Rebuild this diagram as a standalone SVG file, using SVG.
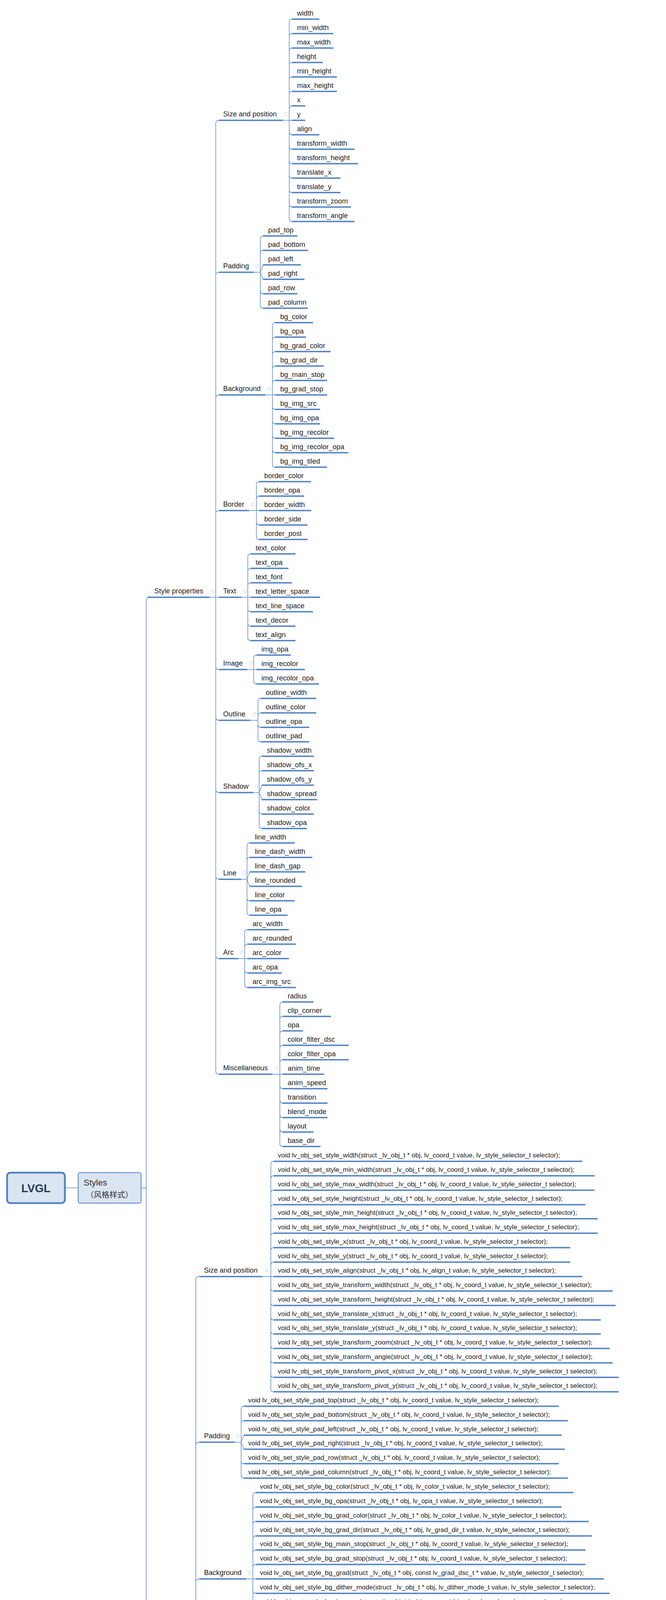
<svg xmlns="http://www.w3.org/2000/svg" width="1704" height="6060" viewBox="0 0 1704 6060">
<style>
text{font-family:"Liberation Sans",Arial,sans-serif;fill:#1b1b1b}
.l{font-size:18px}
.a{font-size:17px}
.g{font-size:18px}
.u{stroke:#4f81c4;stroke-width:3.5;fill:none}
.c{stroke:#5b8cc9;stroke-width:1.5;fill:none}
.k{fill:none;stroke:#c8c8c8;stroke-width:1}
</style>
<rect width="1704" height="6060" fill="#fff"/>
<g id="connectors">
<path class="c" d="M166 3041 H200 M361 3041 H374 M374 3041 V1539 Q374 1529 384 1529 M374 3041 V4543 Q374 4553 384 4553"/>
<!-- Style properties to groups -->
<path class="c" d="M537 1529 H552 M552 1529 V316 Q552 308 560 308 M552 1529 V705 Q552 697 560 697 M552 1529 V1019 Q552 1011 560 1011 M552 1529 V1315 Q552 1307 560 1307 M552 1529 H560 M552 1529 V1706 Q552 1714 560 1714 M552 1529 V1836 Q552 1844 560 1844 M552 1529 V2021 Q552 2029 560 2029 M552 1529 V2243 Q552 2251 560 2251 M552 1529 V2446 Q552 2454 560 2454 M552 1529 V2742 Q552 2750 560 2750"/>
<!-- SP size -->
<path class="c" d="M724 308 H740 M740 308 V57 Q740 49 747 49 M740 308 V94 Q740 86 747 86 M740 308 V131 Q740 123 747 123 M740 308 V168 Q740 160 747 160 M740 308 V205 Q740 197 747 197 M740 308 V242 Q740 234 747 234 M740 308 V279 Q740 271 747 271 M740 308 H747 M740 308 V337 Q740 345 747 345 M740 308 V374 Q740 382 747 382 M740 308 V411 Q740 419 747 419 M740 308 V448 Q740 456 747 456 M740 308 V485 Q740 493 747 493 M740 308 V522 Q740 530 747 530 M740 308 V559 Q740 567 747 567"/>
<path class="c" d="M649 697 H666 M666 697 V612 Q666 604 673 604 M666 697 V649 Q666 641 673 641 M666 697 L673 678 M666 697 L673 715 M666 697 V744 Q666 752 673 752 M666 697 V781 Q666 789 673 789"/>
<path class="c" d="M679 1011 H697 M697 1011 V834 Q697 826 704 826 M697 1011 V871 Q697 863 704 863 M697 1011 V908 Q697 900 704 900 M697 1011 V945 Q697 937 704 937 M697 1011 V982 Q697 974 704 974 M697 1011 H704 M697 1011 V1040 Q697 1048 704 1048 M697 1011 V1077 Q697 1085 704 1085 M697 1011 V1114 Q697 1122 704 1122 M697 1011 V1151 Q697 1159 704 1159 M697 1011 V1188 Q697 1196 704 1196"/>
<path class="c" d="M637 1307 H656 M656 1307 V1241 Q656 1233 663 1233 M656 1307 V1278 Q656 1270 663 1270 M656 1307 H663 M656 1307 V1336 Q656 1344 663 1344 M656 1307 V1373 Q656 1381 663 1381"/>
<path class="c" d="M618 1529 H634 M634 1529 V1426 Q634 1418 641 1418 M634 1529 V1463 Q634 1455 641 1455 M634 1529 V1500 Q634 1492 641 1492 M634 1529 H641 M634 1529 V1558 Q634 1566 641 1566 M634 1529 V1595 Q634 1603 641 1603 M634 1529 V1632 Q634 1640 641 1640"/>
<path class="c" d="M633 1714 H649 M649 1714 V1685 Q649 1677 656 1677 M649 1714 H656 M649 1714 V1743 Q649 1751 656 1751"/>
<path class="c" d="M640 1844 H660 M660 1844 V1796 Q660 1788 667 1788 M660 1844 V1833 Q660 1825 667 1825 M660 1844 V1854 Q660 1862 667 1862 M660 1844 V1891 Q660 1899 667 1899"/>
<path class="c" d="M648 2029 H663 M663 2029 V1944 Q663 1936 670 1936 M663 2029 V1981 Q663 1973 670 1973 M663 2029 L670 2010 M663 2029 L670 2047 M663 2029 V2076 Q663 2084 670 2084 M663 2029 V2113 Q663 2121 670 2121"/>
<path class="c" d="M617 2251 H632 M632 2251 V2166 Q632 2158 639 2158 M632 2251 V2203 Q632 2195 639 2195 M632 2251 L639 2232 M632 2251 L639 2269 M632 2251 V2298 Q632 2306 639 2306 M632 2251 V2335 Q632 2343 639 2343"/>
<path class="c" d="M610 2454 H626 M626 2454 V2388 Q626 2380 633 2380 M626 2454 V2425 Q626 2417 633 2417 M626 2454 H633 M626 2454 V2483 Q626 2491 633 2491 M626 2454 V2520 Q626 2528 633 2528"/>
<path class="c" d="M697 2750 H716 M716 2750 V2573 Q716 2565 723 2565 M716 2750 V2610 Q716 2602 723 2602 M716 2750 V2647 Q716 2639 723 2639 M716 2750 V2684 Q716 2676 723 2676 M716 2750 V2721 Q716 2713 723 2713 M716 2750 H723 M716 2750 V2779 Q716 2787 723 2787 M716 2750 V2816 Q716 2824 723 2824 M716 2750 V2853 Q716 2861 723 2861 M716 2750 V2890 Q716 2898 723 2898 M716 2750 V2927 Q716 2935 723 2935"/>
<!-- Styles API to groups -->
<path class="c" d="M488 4553 H501 M501 4553 V3276 Q501 3268 510 3268 M501 4553 V3700 Q501 3692 510 3692 M501 4553 V4050 Q501 4042 510 4042 M501 4553 V4382 Q501 4374 510 4374 M501 4553 V4548 Q501 4540 510 4540 M501 4553 V4716 Q501 4724 510 4724 M501 4553 V4956 Q501 4964 510 4964 M501 4553 V5140 Q501 5148 510 5148 M501 4553 V5306 Q501 5314 510 5314 M501 4553 V5509 Q501 5517 510 5517 M501 4553 V5822 Q501 5830 510 5830"/>
<path class="c" d="M671 3268 H693 M693 3268 V2981 Q693 2973 700 2973 M693 3268 V3018 Q693 3010 700 3010 M693 3268 V3055 Q693 3047 700 3047 M693 3268 V3092 Q693 3084 700 3084 M693 3268 V3128 Q693 3120 700 3120 M693 3268 V3165 Q693 3157 700 3157 M693 3268 V3202 Q693 3194 700 3194 M693 3268 V3239 Q693 3231 700 3231 M693 3268 H700 M693 3268 V3297 Q693 3305 700 3305 M693 3268 V3334 Q693 3342 700 3342 M693 3268 V3371 Q693 3379 700 3379 M693 3268 V3407 Q693 3415 700 3415 M693 3268 V3444 Q693 3452 700 3452 M693 3268 V3481 Q693 3489 700 3489 M693 3268 V3518 Q693 3526 700 3526 M693 3268 V3555 Q693 3563 700 3563"/>
<path class="c" d="M600 3692 H617 M617 3692 V3608 Q617 3600 624 3600 M617 3692 V3645 Q617 3637 624 3637 M617 3692 L624 3674 M617 3692 L624 3710 M617 3692 V3739 Q617 3747 624 3747 M617 3692 V3776 Q617 3784 624 3784"/>
<path class="c" d="M630 4042 H647 M647 4042 V3829 Q647 3821 654 3821 M647 4042 V3866 Q647 3858 654 3858 M647 4042 V3903 Q647 3895 654 3895 M647 4042 V3940 Q647 3932 654 3932 M647 4042 V3976 Q647 3968 654 3968 M647 4042 V4013 Q647 4005 654 4005 M647 4042 H654 M647 4042 V4071 Q647 4079 654 4079 M647 4042 V4108 Q647 4116 654 4116 M647 4042 V4145 Q647 4153 654 4153 M647 4042 V4182 Q647 4190 654 4190 M647 4042 V4219 Q647 4227 654 4227 M647 4042 V4255 Q647 4263 654 4263"/>
<path class="c" d="M588 4374 H605 M605 4374 V4308 Q605 4300 612 4300 M605 4374 V4345 Q605 4337 612 4337 M605 4374 H612 M605 4374 V4403 Q605 4411 612 4411 M605 4374 V4440 Q605 4448 612 4448"/>
<path class="c" d="M591 4540 H611 M611 4540 V4493 Q611 4485 618 4485 M611 4540 L618 4522 M611 4540 L618 4558 M611 4540 V4587 Q611 4595 618 4595"/>
<path class="c" d="M599 4724 H615 M615 4724 V4640 Q615 4632 622 4632 M615 4724 V4677 Q615 4669 622 4669 M615 4724 L622 4706 M615 4724 L622 4743 M615 4724 V4772 Q615 4780 622 4780 M615 4724 V4809 Q615 4817 622 4817"/>
<path class="c" d="M569 4964 H585 M585 4964 V4861 Q585 4853 592 4853 M585 4964 V4898 Q585 4890 592 4890 M585 4964 V4935 Q585 4927 592 4927 M585 4964 H592 M585 4964 V4993 Q585 5001 592 5001 M585 4964 V5030 Q585 5038 592 5038 M585 4964 V5067 Q585 5075 592 5075"/>
<path class="c" d="M584 5148 H600 M600 5148 V5119 Q600 5111 607 5111 M600 5148 H607 M600 5148 V5177 Q600 5185 607 5185"/>
<path class="c" d="M568 5314 H583 M583 5314 V5230 Q583 5222 590 5222 M583 5314 V5267 Q583 5259 590 5259 M583 5314 L590 5296 M583 5314 L590 5333 M583 5314 V5362 Q583 5370 590 5370 M583 5314 V5398 Q583 5406 590 5406"/>
<path class="c" d="M561 5517 H578 M578 5517 V5451 Q578 5443 585 5443 M578 5517 V5488 Q578 5480 585 5480 M578 5517 H585 M578 5517 V5546 Q578 5554 585 5554 M578 5517 V5583 Q578 5591 585 5591"/>
<path class="c" d="M648 5830 H669 M669 5830 V5636 Q669 5628 676 5628 M669 5830 V5673 Q669 5665 676 5665 M669 5830 V5709 Q669 5701 676 5701 M669 5830 V5746 Q669 5738 676 5738 M669 5830 V5783 Q669 5775 676 5775 M669 5830 L676 5812 M669 5830 L676 5849 M669 5830 V5878 Q669 5886 676 5886 M669 5830 V5915 Q669 5923 676 5923 M669 5830 V5952 Q669 5960 676 5960 M669 5830 V5988 Q669 5996 676 5996 M669 5830 V6025 Q669 6033 676 6033"/>
</g>
<g id="lvgl"><rect x="18" y="3002" width="148" height="78" rx="9" fill="#dbe5f1" stroke="#4f81c4" stroke-width="4.5"/><text x="92" y="3052" text-anchor="middle" style="font-size:29px;font-weight:bold;fill:#1f3a5f">LVGL</text></g>
<g id="styles"><rect x="200" y="3002" width="161" height="78" rx="5" fill="#dbe5f1" stroke="#4f81c4" stroke-width="2"/><text x="214" y="3035" style="font-size:22px;fill:#333">Styles</text><text x="220" y="3066" style="font-family:'Liberation Sans','Noto Sans CJK SC',sans-serif;font-size:20px;fill:#333">（风格样式）</text><circle class="k" cx="368" cy="3042" r="4"/></g>
<g id="style-properties"><text class="g" x="395" y="1519">Style properties</text><path class="u" d="M378 1529 H537"/><circle class="k" cx="545" cy="1514" r="4"/></g>
<g id="styles-api"><text class="g" x="395" y="4543">Styles API</text><path class="u" d="M384 4553 H488"/><circle class="k" cx="495" cy="4538" r="4"/></g>
<!-- SP groups -->
<g id="sp-size"><text class="g" x="571" y="298">Size and position</text><path class="u" d="M560 308 H724"/><circle class="k" cx="732" cy="292" r="4"/></g>
<g id="sp-padding"><text class="g" x="571" y="687">Padding</text><path class="u" d="M560 697 H649"/><circle class="k" cx="658" cy="681" r="4"/></g>
<g id="sp-background"><text class="g" x="571" y="1001">Background</text><path class="u" d="M560 1011 H679"/><circle class="k" cx="689" cy="995" r="4"/></g>
<g id="sp-border"><text class="g" x="571" y="1297">Border</text><path class="u" d="M560 1307 H637"/><circle class="k" cx="647" cy="1291" r="4"/></g>
<g id="sp-text"><text class="g" x="571" y="1519">Text</text><path class="u" d="M560 1529 H618"/><circle class="k" cx="627" cy="1513" r="4"/></g>
<g id="sp-image"><text class="g" x="571" y="1704">Image</text><path class="u" d="M560 1714 H633"/><circle class="k" cx="642" cy="1698" r="4"/></g>
<g id="sp-outline"><text class="g" x="571" y="1834">Outline</text><path class="u" d="M560 1844 H640"/><circle class="k" cx="651" cy="1828" r="4"/></g>
<g id="sp-shadow"><text class="g" x="571" y="2019">Shadow</text><path class="u" d="M560 2029 H648"/><circle class="k" cx="656" cy="2013" r="4"/></g>
<g id="sp-line"><text class="g" x="571" y="2241">Line</text><path class="u" d="M560 2251 H617"/><circle class="k" cx="625" cy="2235" r="4"/></g>
<g id="sp-arc"><text class="g" x="571" y="2444">Arc</text><path class="u" d="M560 2454 H610"/><circle class="k" cx="618" cy="2438" r="4"/></g>
<g id="sp-misc"><text class="g" x="571" y="2740">Miscellaneous</text><path class="u" d="M560 2750 H697"/><circle class="k" cx="708" cy="2734" r="4"/></g>
<!-- SP leaves -->
<g id="p-width"><text class="l" x="760" y="40">width</text><path class="u" d="M747 49 H817"/></g>
<g id="p-min_width"><text class="l" x="760" y="77">min_width</text><path class="u" d="M747 86 H853"/></g>
<g id="p-max_width"><text class="l" x="760" y="114">max_width</text><path class="u" d="M747 123 H853"/></g>
<g id="p-height"><text class="l" x="760" y="151">height</text><path class="u" d="M747 160 H826"/></g>
<g id="p-min_height"><text class="l" x="760" y="188">min_height</text><path class="u" d="M747 197 H862"/></g>
<g id="p-max_height"><text class="l" x="760" y="225">max_height</text><path class="u" d="M747 234 H862"/></g>
<g id="p-x"><text class="l" x="760" y="262">x</text><path class="u" d="M747 271 H781"/></g>
<g id="p-y"><text class="l" x="760" y="299">y</text><path class="u" d="M747 308 H781"/></g>
<g id="p-align"><text class="l" x="760" y="336">align</text><path class="u" d="M747 345 H817"/></g>
<g id="p-transform_width"><text class="l" x="760" y="373">transform_width</text><path class="u" d="M747 382 H907"/></g>
<g id="p-transform_height"><text class="l" x="760" y="410">transform_height</text><path class="u" d="M747 419 H916"/></g>
<g id="p-translate_x"><text class="l" x="760" y="447">translate_x</text><path class="u" d="M747 456 H871"/></g>
<g id="p-translate_y"><text class="l" x="760" y="484">translate_y</text><path class="u" d="M747 493 H871"/></g>
<g id="p-transform_zoom"><text class="l" x="760" y="521">transform_zoom</text><path class="u" d="M747 530 H898"/></g>
<g id="p-transform_angle"><text class="l" x="760" y="558">transform_angle</text><path class="u" d="M747 567 H907"/></g>
<g id="p-pad_top"><text class="l" x="686" y="595">pad_top</text><path class="u" d="M673 604 H761"/></g>
<g id="p-pad_bottom"><text class="l" x="686" y="632">pad_bottom</text><path class="u" d="M673 641 H788"/></g>
<g id="p-pad_left"><text class="l" x="686" y="669">pad_left</text><path class="u" d="M673 678 H770"/></g>
<g id="p-pad_right"><text class="l" x="686" y="706">pad_right</text><path class="u" d="M673 715 H779"/></g>
<g id="p-pad_row"><text class="l" x="686" y="743">pad_row</text><path class="u" d="M673 752 H761"/></g>
<g id="p-pad_column"><text class="l" x="686" y="780">pad_column</text><path class="u" d="M673 789 H788"/></g>
<g id="p-bg_color"><text class="l" x="717" y="817">bg_color</text><path class="u" d="M704 826 H801"/></g>
<g id="p-bg_opa"><text class="l" x="717" y="854">bg_opa</text><path class="u" d="M704 863 H783"/></g>
<g id="p-bg_grad_color"><text class="l" x="717" y="891">bg_grad_color</text><path class="u" d="M704 900 H846"/></g>
<g id="p-bg_grad_dir"><text class="l" x="717" y="928">bg_grad_dir</text><path class="u" d="M704 937 H828"/></g>
<g id="p-bg_main_stop"><text class="l" x="717" y="965">bg_main_stop</text><path class="u" d="M704 974 H837"/></g>
<g id="p-bg_grad_stop"><text class="l" x="717" y="1002">bg_grad_stop</text><path class="u" d="M704 1011 H837"/></g>
<g id="p-bg_img_src"><text class="l" x="717" y="1039">bg_img_src</text><path class="u" d="M704 1048 H819"/></g>
<g id="p-bg_img_opa"><text class="l" x="717" y="1076">bg_img_opa</text><path class="u" d="M704 1085 H819"/></g>
<g id="p-bg_img_recolor"><text class="l" x="717" y="1113">bg_img_recolor</text><path class="u" d="M704 1122 H855"/></g>
<g id="p-bg_img_recolor_opa"><text class="l" x="717" y="1150">bg_img_recolor_opa</text><path class="u" d="M704 1159 H891"/></g>
<g id="p-bg_img_tiled"><text class="l" x="717" y="1187">bg_img_tiled</text><path class="u" d="M704 1196 H837"/></g>
<g id="p-border_color"><text class="l" x="676" y="1224">border_color</text><path class="u" d="M663 1233 H796"/></g>
<g id="p-border_opa"><text class="l" x="676" y="1261">border_opa</text><path class="u" d="M663 1270 H778"/></g>
<g id="p-border_width"><text class="l" x="676" y="1298">border_width</text><path class="u" d="M663 1307 H796"/></g>
<g id="p-border_side"><text class="l" x="676" y="1335">border_side</text><path class="u" d="M663 1344 H787"/></g>
<g id="p-border_post"><text class="l" x="676" y="1372">border_post</text><path class="u" d="M663 1381 H787"/></g>
<g id="p-text_color"><text class="l" x="654" y="1409">text_color</text><path class="u" d="M641 1418 H756"/></g>
<g id="p-text_opa"><text class="l" x="654" y="1446">text_opa</text><path class="u" d="M641 1455 H738"/></g>
<g id="p-text_font"><text class="l" x="654" y="1483">text_font</text><path class="u" d="M641 1492 H747"/></g>
<g id="p-text_letter_space"><text class="l" x="654" y="1520">text_letter_space</text><path class="u" d="M641 1529 H819"/></g>
<g id="p-text_line_space"><text class="l" x="654" y="1557">text_line_space</text><path class="u" d="M641 1566 H801"/></g>
<g id="p-text_decor"><text class="l" x="654" y="1594">text_decor</text><path class="u" d="M641 1603 H756"/></g>
<g id="p-text_align"><text class="l" x="654" y="1631">text_align</text><path class="u" d="M641 1640 H756"/></g>
<g id="p-img_opa"><text class="l" x="669" y="1668">img_opa</text><path class="u" d="M656 1677 H744"/></g>
<g id="p-img_recolor"><text class="l" x="669" y="1705">img_recolor</text><path class="u" d="M656 1714 H780"/></g>
<g id="p-img_recolor_opa"><text class="l" x="669" y="1742">img_recolor_opa</text><path class="u" d="M656 1751 H816"/></g>
<g id="p-outline_width"><text class="l" x="680" y="1779">outline_width</text><path class="u" d="M667 1788 H809"/></g>
<g id="p-outline_color"><text class="l" x="680" y="1816">outline_color</text><path class="u" d="M667 1825 H809"/></g>
<g id="p-outline_opa"><text class="l" x="680" y="1853">outline_opa</text><path class="u" d="M667 1862 H791"/></g>
<g id="p-outline_pad"><text class="l" x="680" y="1890">outline_pad</text><path class="u" d="M667 1899 H791"/></g>
<g id="p-shadow_width"><text class="l" x="683" y="1927">shadow_width</text><path class="u" d="M670 1936 H803"/></g>
<g id="p-shadow_ofs_x"><text class="l" x="683" y="1964">shadow_ofs_x</text><path class="u" d="M670 1973 H803"/></g>
<g id="p-shadow_ofs_y"><text class="l" x="683" y="2001">shadow_ofs_y</text><path class="u" d="M670 2010 H803"/></g>
<g id="p-shadow_spread"><text class="l" x="683" y="2038">shadow_spread</text><path class="u" d="M670 2047 H812"/></g>
<g id="p-shadow_color"><text class="l" x="683" y="2075">shadow_color</text><path class="u" d="M670 2084 H803"/></g>
<g id="p-shadow_opa"><text class="l" x="683" y="2112">shadow_opa</text><path class="u" d="M670 2121 H785"/></g>
<g id="p-line_width"><text class="l" x="652" y="2149">line_width</text><path class="u" d="M639 2158 H754"/></g>
<g id="p-line_dash_width"><text class="l" x="652" y="2186">line_dash_width</text><path class="u" d="M639 2195 H799"/></g>
<g id="p-line_dash_gap"><text class="l" x="652" y="2223">line_dash_gap</text><path class="u" d="M639 2232 H781"/></g>
<g id="p-line_rounded"><text class="l" x="652" y="2260">line_rounded</text><path class="u" d="M639 2269 H772"/></g>
<g id="p-line_color"><text class="l" x="652" y="2297">line_color</text><path class="u" d="M639 2306 H754"/></g>
<g id="p-line_opa"><text class="l" x="652" y="2334">line_opa</text><path class="u" d="M639 2343 H736"/></g>
<g id="p-arc_width"><text class="l" x="646" y="2371">arc_width</text><path class="u" d="M633 2380 H739"/></g>
<g id="p-arc_rounded"><text class="l" x="646" y="2408">arc_rounded</text><path class="u" d="M633 2417 H757"/></g>
<g id="p-arc_color"><text class="l" x="646" y="2445">arc_color</text><path class="u" d="M633 2454 H739"/></g>
<g id="p-arc_opa"><text class="l" x="646" y="2482">arc_opa</text><path class="u" d="M633 2491 H721"/></g>
<g id="p-arc_img_src"><text class="l" x="646" y="2519">arc_img_src</text><path class="u" d="M633 2528 H757"/></g>
<g id="p-radius"><text class="l" x="736" y="2556">radius</text><path class="u" d="M723 2565 H802"/></g>
<g id="p-clip_corner"><text class="l" x="736" y="2593">clip_corner</text><path class="u" d="M723 2602 H847"/></g>
<g id="p-opa"><text class="l" x="736" y="2630">opa</text><path class="u" d="M723 2639 H775"/></g>
<g id="p-color_filter_dsc"><text class="l" x="736" y="2667">color_filter_dsc</text><path class="u" d="M723 2676 H892"/></g>
<g id="p-color_filter_opa"><text class="l" x="736" y="2704">color_filter_opa</text><path class="u" d="M723 2713 H892"/></g>
<g id="p-anim_time"><text class="l" x="736" y="2741">anim_time</text><path class="u" d="M723 2750 H829"/></g>
<g id="p-anim_speed"><text class="l" x="736" y="2778">anim_speed</text><path class="u" d="M723 2787 H838"/></g>
<g id="p-transition"><text class="l" x="736" y="2815">transition</text><path class="u" d="M723 2824 H838"/></g>
<g id="p-blend_mode"><text class="l" x="736" y="2852">blend_mode</text><path class="u" d="M723 2861 H838"/></g>
<g id="p-layout"><text class="l" x="736" y="2889">layout</text><path class="u" d="M723 2898 H802"/></g>
<g id="p-base_dir"><text class="l" x="736" y="2926">base_dir</text><path class="u" d="M723 2935 H820"/></g>
<!-- API groups -->
<g id="api-size"><text class="g" x="522" y="3258">Size and position</text><path class="u" d="M510 3268 H671"/><circle class="k" cx="682" cy="3252" r="4"/></g>
<g id="api-padding"><text class="g" x="522" y="3682">Padding</text><path class="u" d="M510 3692 H600"/><circle class="k" cx="609" cy="3676" r="4"/></g>
<g id="api-background"><text class="g" x="522" y="4032">Background</text><path class="u" d="M510 4042 H630"/><circle class="k" cx="639" cy="4026" r="4"/></g>
<g id="api-border"><text class="g" x="522" y="4364">Border</text><path class="u" d="M510 4374 H588"/><circle class="k" cx="597" cy="4358" r="4"/></g>
<g id="api-outline"><text class="g" x="522" y="4530">Outline</text><path class="u" d="M510 4540 H591"/><circle class="k" cx="602" cy="4528" r="4"/></g>
<g id="api-shadow"><text class="g" x="522" y="4714">Shadow</text><path class="u" d="M510 4724 H599"/><circle class="k" cx="607" cy="4708" r="4"/></g>
<g id="api-text"><text class="g" x="522" y="4954">Text</text><path class="u" d="M510 4964 H569"/><circle class="k" cx="577" cy="4948" r="4"/></g>
<g id="api-image"><text class="g" x="522" y="5138">Image</text><path class="u" d="M510 5148 H584"/><circle class="k" cx="592" cy="5132" r="4"/></g>
<g id="api-line"><text class="g" x="522" y="5304">Line</text><path class="u" d="M510 5314 H568"/><circle class="k" cx="576" cy="5298" r="4"/></g>
<g id="api-arc"><text class="g" x="522" y="5507">Arc</text><path class="u" d="M510 5517 H561"/><circle class="k" cx="570" cy="5501" r="4"/></g>
<g id="api-misc"><text class="g" x="522" y="5820">Miscellaneous</text><path class="u" d="M510 5830 H648"/><circle class="k" cx="658" cy="5814" r="4"/></g>
<!-- API leaves -->
<g id="f-width"><text class="a" x="711" y="2963">void lv_obj_set_style_width(struct _lv_obj_t * obj, lv_coord_t value, lv_style_selector_t selector);</text><path class="u" d="M700 2973 H1490"/></g>
<g id="f-min_width"><text class="a" x="711" y="3000">void lv_obj_set_style_min_width(struct _lv_obj_t * obj, lv_coord_t value, lv_style_selector_t selector);</text><path class="u" d="M700 3010 H1521"/></g>
<g id="f-max_width"><text class="a" x="711" y="3037">void lv_obj_set_style_max_width(struct _lv_obj_t * obj, lv_coord_t value, lv_style_selector_t selector);</text><path class="u" d="M700 3047 H1521"/></g>
<g id="f-height"><text class="a" x="711" y="3074">void lv_obj_set_style_height(struct _lv_obj_t * obj, lv_coord_t value, lv_style_selector_t selector);</text><path class="u" d="M700 3084 H1498"/></g>
<g id="f-min_height"><text class="a" x="711" y="3110">void lv_obj_set_style_min_height(struct _lv_obj_t * obj, lv_coord_t value, lv_style_selector_t selector);</text><path class="u" d="M700 3120 H1529"/></g>
<g id="f-max_height"><text class="a" x="711" y="3147">void lv_obj_set_style_max_height(struct _lv_obj_t * obj, lv_coord_t value, lv_style_selector_t selector);</text><path class="u" d="M700 3157 H1529"/></g>
<g id="f-x"><text class="a" x="711" y="3184">void lv_obj_set_style_x(struct _lv_obj_t * obj, lv_coord_t value, lv_style_selector_t selector);</text><path class="u" d="M700 3194 H1459"/></g>
<g id="f-y"><text class="a" x="711" y="3221">void lv_obj_set_style_y(struct _lv_obj_t * obj, lv_coord_t value, lv_style_selector_t selector);</text><path class="u" d="M700 3231 H1459"/></g>
<g id="f-align"><text class="a" x="711" y="3258">void lv_obj_set_style_align(struct _lv_obj_t * obj, lv_align_t value, lv_style_selector_t selector);</text><path class="u" d="M700 3268 H1490"/></g>
<g id="f-transform_width"><text class="a" x="711" y="3295">void lv_obj_set_style_transform_width(struct _lv_obj_t * obj, lv_coord_t value, lv_style_selector_t selector);</text><path class="u" d="M700 3305 H1568"/></g>
<g id="f-transform_height"><text class="a" x="711" y="3332">void lv_obj_set_style_transform_height(struct _lv_obj_t * obj, lv_coord_t value, lv_style_selector_t selector);</text><path class="u" d="M700 3342 H1575"/></g>
<g id="f-translate_x"><text class="a" x="711" y="3369">void lv_obj_set_style_translate_x(struct _lv_obj_t * obj, lv_coord_t value, lv_style_selector_t selector);</text><path class="u" d="M700 3379 H1537"/></g>
<g id="f-translate_y"><text class="a" x="711" y="3405">void lv_obj_set_style_translate_y(struct _lv_obj_t * obj, lv_coord_t value, lv_style_selector_t selector);</text><path class="u" d="M700 3415 H1537"/></g>
<g id="f-transform_zoom"><text class="a" x="711" y="3442">void lv_obj_set_style_transform_zoom(struct _lv_obj_t * obj, lv_coord_t value, lv_style_selector_t selector);</text><path class="u" d="M700 3452 H1560"/></g>
<g id="f-transform_angle"><text class="a" x="711" y="3479">void lv_obj_set_style_transform_angle(struct _lv_obj_t * obj, lv_coord_t value, lv_style_selector_t selector);</text><path class="u" d="M700 3489 H1568"/></g>
<g id="f-transform_pivot_x"><text class="a" x="711" y="3516">void lv_obj_set_style_transform_pivot_x(struct _lv_obj_t * obj, lv_coord_t value, lv_style_selector_t selector);</text><path class="u" d="M700 3526 H1583"/></g>
<g id="f-transform_pivot_y"><text class="a" x="711" y="3553">void lv_obj_set_style_transform_pivot_y(struct _lv_obj_t * obj, lv_coord_t value, lv_style_selector_t selector);</text><path class="u" d="M700 3563 H1583"/></g>
<g id="f-pad_top"><text class="a" x="635" y="3590">void lv_obj_set_style_pad_top(struct _lv_obj_t * obj, lv_coord_t value, lv_style_selector_t selector);</text><path class="u" d="M624 3600 H1430"/></g>
<g id="f-pad_bottom"><text class="a" x="635" y="3627">void lv_obj_set_style_pad_bottom(struct _lv_obj_t * obj, lv_coord_t value, lv_style_selector_t selector);</text><path class="u" d="M624 3637 H1453"/></g>
<g id="f-pad_left"><text class="a" x="635" y="3664">void lv_obj_set_style_pad_left(struct _lv_obj_t * obj, lv_coord_t value, lv_style_selector_t selector);</text><path class="u" d="M624 3674 H1437"/></g>
<g id="f-pad_right"><text class="a" x="635" y="3700">void lv_obj_set_style_pad_right(struct _lv_obj_t * obj, lv_coord_t value, lv_style_selector_t selector);</text><path class="u" d="M624 3710 H1445"/></g>
<g id="f-pad_row"><text class="a" x="635" y="3737">void lv_obj_set_style_pad_row(struct _lv_obj_t * obj, lv_coord_t value, lv_style_selector_t selector);</text><path class="u" d="M624 3747 H1430"/></g>
<g id="f-pad_column"><text class="a" x="635" y="3774">void lv_obj_set_style_pad_column(struct _lv_obj_t * obj, lv_coord_t value, lv_style_selector_t selector);</text><path class="u" d="M624 3784 H1453"/></g>
<g id="f-bg_color"><text class="a" x="665" y="3811">void lv_obj_set_style_bg_color(struct _lv_obj_t * obj, lv_color_t value, lv_style_selector_t selector);</text><path class="u" d="M654 3821 H1467"/></g>
<g id="f-bg_opa"><text class="a" x="665" y="3848">void lv_obj_set_style_bg_opa(struct _lv_obj_t * obj, lv_opa_t value, lv_style_selector_t selector);</text><path class="u" d="M654 3858 H1437"/></g>
<g id="f-bg_grad_color"><text class="a" x="665" y="3885">void lv_obj_set_style_bg_grad_color(struct _lv_obj_t * obj, lv_color_t value, lv_style_selector_t selector);</text><path class="u" d="M654 3895 H1506"/></g>
<g id="f-bg_grad_dir"><text class="a" x="665" y="3922">void lv_obj_set_style_bg_grad_dir(struct _lv_obj_t * obj, lv_grad_dir_t value, lv_style_selector_t selector);</text><path class="u" d="M654 3932 H1514"/></g>
<g id="f-bg_main_stop"><text class="a" x="665" y="3958">void lv_obj_set_style_bg_main_stop(struct _lv_obj_t * obj, lv_coord_t value, lv_style_selector_t selector);</text><path class="u" d="M654 3968 H1498"/></g>
<g id="f-bg_grad_stop"><text class="a" x="665" y="3995">void lv_obj_set_style_bg_grad_stop(struct _lv_obj_t * obj, lv_coord_t value, lv_style_selector_t selector);</text><path class="u" d="M654 4005 H1498"/></g>
<g id="f-bg_grad"><text class="a" x="665" y="4032">void lv_obj_set_style_bg_grad(struct _lv_obj_t * obj, const lv_grad_dsc_t * value, lv_style_selector_t selector);</text><path class="u" d="M654 4042 H1545"/></g>
<g id="f-bg_dither_mode"><text class="a" x="665" y="4069">void lv_obj_set_style_bg_dither_mode(struct _lv_obj_t * obj, lv_dither_mode_t value, lv_style_selector_t selector);</text><path class="u" d="M654 4079 H1560"/></g>
<g id="f-bg_img_src"><text class="a" x="665" y="4106">void lv_obj_set_style_bg_img_src(struct _lv_obj_t * obj, const void * value, lv_style_selector_t selector);</text><path class="u" d="M654 4116 H1498"/></g>
<g id="f-bg_img_opa"><text class="a" x="665" y="4143">void lv_obj_set_style_bg_img_opa(struct _lv_obj_t * obj, lv_opa_t value, lv_style_selector_t selector);</text><path class="u" d="M654 4153 H1467"/></g>
<g id="f-bg_img_recolor"><text class="a" x="665" y="4180">void lv_obj_set_style_bg_img_recolor(struct _lv_obj_t * obj, lv_color_t value, lv_style_selector_t selector);</text><path class="u" d="M654 4190 H1514"/></g>
<g id="f-bg_img_recolor_opa"><text class="a" x="665" y="4217">void lv_obj_set_style_bg_img_recolor_opa(struct _lv_obj_t * obj, lv_opa_t value, lv_style_selector_t selector);</text><path class="u" d="M654 4227 H1529"/></g>
<g id="f-bg_img_tiled"><text class="a" x="665" y="4253">void lv_obj_set_style_bg_img_tiled(struct _lv_obj_t * obj, bool value, lv_style_selector_t selector);</text><path class="u" d="M654 4263 H1452"/></g>
<g id="f-border_color"><text class="a" x="623" y="4290">void lv_obj_set_style_border_color(struct _lv_obj_t * obj, lv_color_t value, lv_style_selector_t selector);</text><path class="u" d="M612 4300 H1456"/></g>
<g id="f-border_opa"><text class="a" x="623" y="4327">void lv_obj_set_style_border_opa(struct _lv_obj_t * obj, lv_opa_t value, lv_style_selector_t selector);</text><path class="u" d="M612 4337 H1425"/></g>
<g id="f-border_width"><text class="a" x="623" y="4364">void lv_obj_set_style_border_width(struct _lv_obj_t * obj, lv_coord_t value, lv_style_selector_t selector);</text><path class="u" d="M612 4374 H1456"/></g>
<g id="f-border_side"><text class="a" x="623" y="4401">void lv_obj_set_style_border_side(struct _lv_obj_t * obj, lv_border_side_t value, lv_style_selector_t selector);</text><path class="u" d="M612 4411 H1495"/></g>
<g id="f-border_post"><text class="a" x="623" y="4438">void lv_obj_set_style_border_post(struct _lv_obj_t * obj, bool value, lv_style_selector_t selector);</text><path class="u" d="M612 4448 H1402"/></g>
<g id="f-outline_width"><text class="a" x="629" y="4475">void lv_obj_set_style_outline_width(struct _lv_obj_t * obj, lv_coord_t value, lv_style_selector_t selector);</text><path class="u" d="M618 4485 H1470"/></g>
<g id="f-outline_color"><text class="a" x="629" y="4512">void lv_obj_set_style_outline_color(struct _lv_obj_t * obj, lv_color_t value, lv_style_selector_t selector);</text><path class="u" d="M618 4522 H1470"/></g>
<g id="f-outline_opa"><text class="a" x="629" y="4548">void lv_obj_set_style_outline_opa(struct _lv_obj_t * obj, lv_opa_t value, lv_style_selector_t selector);</text><path class="u" d="M618 4558 H1439"/></g>
<g id="f-outline_pad"><text class="a" x="629" y="4585">void lv_obj_set_style_outline_pad(struct _lv_obj_t * obj, lv_coord_t value, lv_style_selector_t selector);</text><path class="u" d="M618 4595 H1455"/></g>
<g id="f-shadow_width"><text class="a" x="633" y="4622">void lv_obj_set_style_shadow_width(struct _lv_obj_t * obj, lv_coord_t value, lv_style_selector_t selector);</text><path class="u" d="M622 4632 H1466"/></g>
<g id="f-shadow_ofs_x"><text class="a" x="633" y="4659">void lv_obj_set_style_shadow_ofs_x(struct _lv_obj_t * obj, lv_coord_t value, lv_style_selector_t selector);</text><path class="u" d="M622 4669 H1466"/></g>
<g id="f-shadow_ofs_y"><text class="a" x="633" y="4696">void lv_obj_set_style_shadow_ofs_y(struct _lv_obj_t * obj, lv_coord_t value, lv_style_selector_t selector);</text><path class="u" d="M622 4706 H1466"/></g>
<g id="f-shadow_spread"><text class="a" x="633" y="4733">void lv_obj_set_style_shadow_spread(struct _lv_obj_t * obj, lv_coord_t value, lv_style_selector_t selector);</text><path class="u" d="M622 4743 H1474"/></g>
<g id="f-shadow_color"><text class="a" x="633" y="4770">void lv_obj_set_style_shadow_color(struct _lv_obj_t * obj, lv_color_t value, lv_style_selector_t selector);</text><path class="u" d="M622 4780 H1466"/></g>
<g id="f-shadow_opa"><text class="a" x="633" y="4807">void lv_obj_set_style_shadow_opa(struct _lv_obj_t * obj, lv_opa_t value, lv_style_selector_t selector);</text><path class="u" d="M622 4817 H1435"/></g>
<g id="f-text_color"><text class="a" x="603" y="4843">void lv_obj_set_style_text_color(struct _lv_obj_t * obj, lv_color_t value, lv_style_selector_t selector);</text><path class="u" d="M592 4853 H1421"/></g>
<g id="f-text_opa"><text class="a" x="603" y="4880">void lv_obj_set_style_text_opa(struct _lv_obj_t * obj, lv_opa_t value, lv_style_selector_t selector);</text><path class="u" d="M592 4890 H1390"/></g>
<g id="f-text_font"><text class="a" x="603" y="4917">void lv_obj_set_style_text_font(struct _lv_obj_t * obj, const lv_font_t * value, lv_style_selector_t selector);</text><path class="u" d="M592 4927 H1467"/></g>
<g id="f-text_letter_space"><text class="a" x="603" y="4954">void lv_obj_set_style_text_letter_space(struct _lv_obj_t * obj, lv_coord_t value, lv_style_selector_t selector);</text><path class="u" d="M592 4964 H1475"/></g>
<g id="f-text_line_space"><text class="a" x="603" y="4991">void lv_obj_set_style_text_line_space(struct _lv_obj_t * obj, lv_coord_t value, lv_style_selector_t selector);</text><path class="u" d="M592 5001 H1460"/></g>
<g id="f-text_decor"><text class="a" x="603" y="5028">void lv_obj_set_style_text_decor(struct _lv_obj_t * obj, lv_text_decor_t value, lv_style_selector_t selector);</text><path class="u" d="M592 5038 H1460"/></g>
<g id="f-text_align"><text class="a" x="603" y="5065">void lv_obj_set_style_text_align(struct _lv_obj_t * obj, lv_text_align_t value, lv_style_selector_t selector);</text><path class="u" d="M592 5075 H1460"/></g>
<g id="f-img_opa"><text class="a" x="618" y="5101">void lv_obj_set_style_img_opa(struct _lv_obj_t * obj, lv_opa_t value, lv_style_selector_t selector);</text><path class="u" d="M607 5111 H1397"/></g>
<g id="f-img_recolor"><text class="a" x="618" y="5138">void lv_obj_set_style_img_recolor(struct _lv_obj_t * obj, lv_color_t value, lv_style_selector_t selector);</text><path class="u" d="M607 5148 H1444"/></g>
<g id="f-img_recolor_opa"><text class="a" x="618" y="5175">void lv_obj_set_style_img_recolor_opa(struct _lv_obj_t * obj, lv_opa_t value, lv_style_selector_t selector);</text><path class="u" d="M607 5185 H1459"/></g>
<g id="f-line_width"><text class="a" x="601" y="5212">void lv_obj_set_style_line_width(struct _lv_obj_t * obj, lv_coord_t value, lv_style_selector_t selector);</text><path class="u" d="M590 5222 H1419"/></g>
<g id="f-line_dash_width"><text class="a" x="601" y="5249">void lv_obj_set_style_line_dash_width(struct _lv_obj_t * obj, lv_coord_t value, lv_style_selector_t selector);</text><path class="u" d="M590 5259 H1458"/></g>
<g id="f-line_dash_gap"><text class="a" x="601" y="5286">void lv_obj_set_style_line_dash_gap(struct _lv_obj_t * obj, lv_coord_t value, lv_style_selector_t selector);</text><path class="u" d="M590 5296 H1442"/></g>
<g id="f-line_rounded"><text class="a" x="601" y="5323">void lv_obj_set_style_line_rounded(struct _lv_obj_t * obj, bool value, lv_style_selector_t selector);</text><path class="u" d="M590 5333 H1388"/></g>
<g id="f-line_color"><text class="a" x="601" y="5360">void lv_obj_set_style_line_color(struct _lv_obj_t * obj, lv_color_t value, lv_style_selector_t selector);</text><path class="u" d="M590 5370 H1419"/></g>
<g id="f-line_opa"><text class="a" x="601" y="5396">void lv_obj_set_style_line_opa(struct _lv_obj_t * obj, lv_opa_t value, lv_style_selector_t selector);</text><path class="u" d="M590 5406 H1388"/></g>
<g id="f-arc_width"><text class="a" x="596" y="5433">void lv_obj_set_style_arc_width(struct _lv_obj_t * obj, lv_coord_t value, lv_style_selector_t selector);</text><path class="u" d="M585 5443 H1406"/></g>
<g id="f-arc_rounded"><text class="a" x="596" y="5470">void lv_obj_set_style_arc_rounded(struct _lv_obj_t * obj, bool value, lv_style_selector_t selector);</text><path class="u" d="M585 5480 H1375"/></g>
<g id="f-arc_color"><text class="a" x="596" y="5507">void lv_obj_set_style_arc_color(struct _lv_obj_t * obj, lv_color_t value, lv_style_selector_t selector);</text><path class="u" d="M585 5517 H1406"/></g>
<g id="f-arc_opa"><text class="a" x="596" y="5544">void lv_obj_set_style_arc_opa(struct _lv_obj_t * obj, lv_opa_t value, lv_style_selector_t selector);</text><path class="u" d="M585 5554 H1375"/></g>
<g id="f-arc_img_src"><text class="a" x="596" y="5581">void lv_obj_set_style_arc_img_src(struct _lv_obj_t * obj, const void * value, lv_style_selector_t selector);</text><path class="u" d="M585 5591 H1437"/></g>
<g id="f-radius"><text class="a" x="687" y="5618">void lv_obj_set_style_radius(struct _lv_obj_t * obj, lv_coord_t value, lv_style_selector_t selector);</text><path class="u" d="M676 5628 H1474"/></g>
<g id="f-clip_corner"><text class="a" x="687" y="5655">void lv_obj_set_style_clip_corner(struct _lv_obj_t * obj, bool value, lv_style_selector_t selector);</text><path class="u" d="M676 5665 H1466"/></g>
<g id="f-opa"><text class="a" x="687" y="5691">void lv_obj_set_style_opa(struct _lv_obj_t * obj, lv_opa_t value, lv_style_selector_t selector);</text><path class="u" d="M676 5701 H1435"/></g>
<g id="f-color_filter_dsc"><text class="a" x="687" y="5728">void lv_obj_set_style_color_filter_dsc(struct _lv_obj_t * obj, const lv_color_filter_dsc_t * value, lv_style_selector_t selector);</text><path class="u" d="M676 5738 H1690"/></g>
<g id="f-color_filter_opa"><text class="a" x="687" y="5765">void lv_obj_set_style_color_filter_opa(struct _lv_obj_t * obj, lv_opa_t value, lv_style_selector_t selector);</text><path class="u" d="M676 5775 H1536"/></g>
<g id="f-anim"><text class="a" x="687" y="5802">void lv_obj_set_style_anim(struct _lv_obj_t * obj, const lv_anim_t * value, lv_style_selector_t selector);</text><path class="u" d="M676 5812 H1513"/></g>
<g id="f-anim_time"><text class="a" x="687" y="5839">void lv_obj_set_style_anim_time(struct _lv_obj_t * obj, uint32_t value, lv_style_selector_t selector);</text><path class="u" d="M676 5849 H1482"/></g>
<g id="f-anim_speed"><text class="a" x="687" y="5876">void lv_obj_set_style_anim_speed(struct _lv_obj_t * obj, uint32_t value, lv_style_selector_t selector);</text><path class="u" d="M676 5886 H1489"/></g>
<g id="f-transition"><text class="a" x="687" y="5913">void lv_obj_set_style_transition(struct _lv_obj_t * obj, const lv_style_transition_dsc_t * value, lv_style_selector_t selector);</text><path class="u" d="M676 5923 H1683"/></g>
<g id="f-blend_mode"><text class="a" x="687" y="5950">void lv_obj_set_style_blend_mode(struct _lv_obj_t * obj, lv_blend_mode_t value, lv_style_selector_t selector);</text><path class="u" d="M676 5960 H1544"/></g>
<g id="f-layout"><text class="a" x="687" y="5986">void lv_obj_set_style_layout(struct _lv_obj_t * obj, uint16_t value, lv_style_selector_t selector);</text><path class="u" d="M676 5996 H1459"/></g>
<g id="f-base_dir"><text class="a" x="687" y="6023">void lv_obj_set_style_base_dir(struct _lv_obj_t * obj, lv_base_dir_t value, lv_style_selector_t selector);</text><path class="u" d="M676 6033 H1513"/></g>
</svg>
